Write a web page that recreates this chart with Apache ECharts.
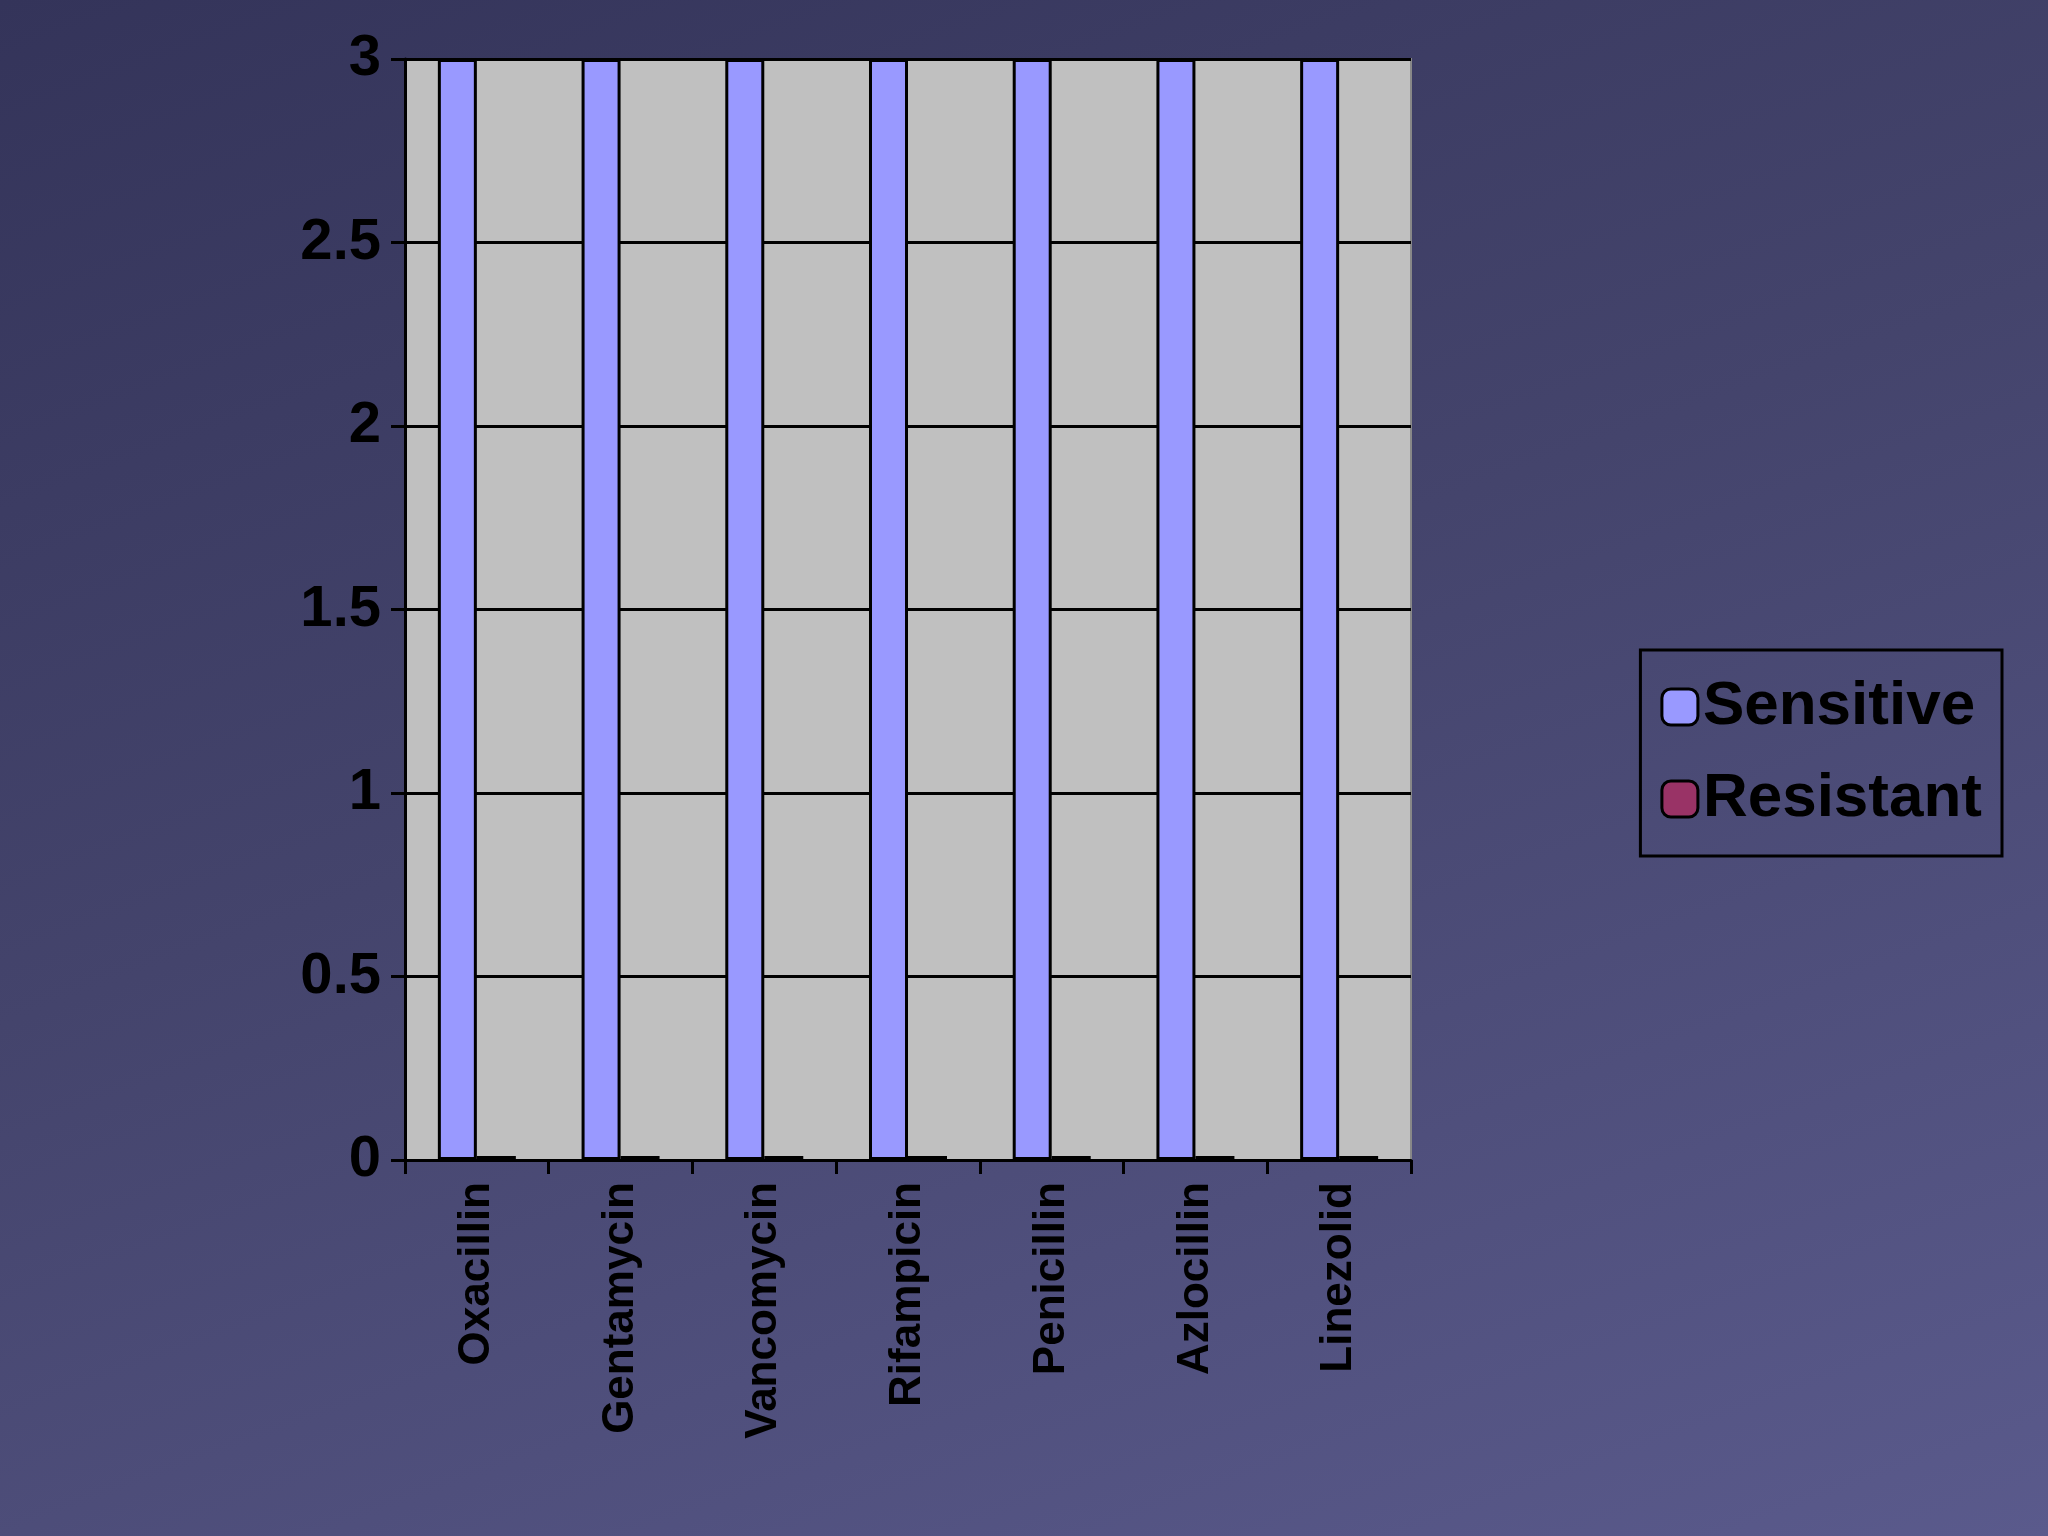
<!DOCTYPE html>
<html><head><meta charset="utf-8">
<script src="https://cdn.jsdelivr.net/npm/echarts@6/dist/echarts.min.js"></script>
<style>html,body{margin:0;padding:0;}#c{width:2048px;height:1536px;background:linear-gradient(160deg,#34345a 0%,#44446c 45%,#5a5a8c 100%);}</style>
</head><body><div id="c"></div>
<script>
const categories=["Oxacillin","Gentamycin","Vancomycin","Rifampicin","Penicillin","Azlocillin","Linezolid"];
const sensitive=[3,3,3,3,3,3,3];
const resistant=[0,0,0,0,0,0,0];
const yTicks=[0,0.5,1,1.5,2,2.5,3];
const chart=echarts.init(document.getElementById('c'));
chart.setOption({
  textStyle:{fontFamily:'Liberation Sans'},
  legend:{right:46,top:650,orient:'vertical',itemWidth:36,itemHeight:36,itemGap:30,
    padding:[26,20,26,20],backgroundColor:'rgba(0,0,0,0)',borderColor:'#000',borderWidth:3,
    textStyle:{fontSize:62,fontWeight:'bold',color:'#000'},data:['Sensitive','Resistant'],
    itemStyle:{borderColor:'#000',borderWidth:3}},
  grid:{left:405,top:59,width:1006,height:1101,show:true,backgroundColor:'#c0c0c0',borderColor:'#888',borderWidth:2},
  xAxis:{type:'category',data:categories,axisLine:{lineStyle:{color:'#000',width:3}},
    axisTick:{show:true,length:14,lineStyle:{color:'#000',width:3}},
    axisLabel:{rotate:90,fontSize:44,fontWeight:'bold',color:'#000',margin:22}},
  yAxis:{type:'value',min:0,max:3,interval:0.5,
    axisLine:{show:true,lineStyle:{color:'#000',width:3}},
    axisTick:{show:true,length:14,lineStyle:{color:'#000',width:3}},
    axisLabel:{fontSize:58,fontWeight:'bold',color:'#000',margin:24,formatter:v=>yTicks.includes(v)?String(v):''},
    splitLine:{lineStyle:{color:'#000',width:3}}},
  series:[
    {name:'Sensitive',type:'bar',data:sensitive,barWidth:39,barGap:'0%',barCategoryGap:'45%',
     itemStyle:{color:'#9999ff',borderColor:'#000',borderWidth:3}},
    {name:'Resistant',type:'bar',data:resistant,barWidth:39,barMinHeight:4,
     itemStyle:{color:'#993366',borderColor:'#000',borderWidth:2}}
  ]
});
</script></body></html>
